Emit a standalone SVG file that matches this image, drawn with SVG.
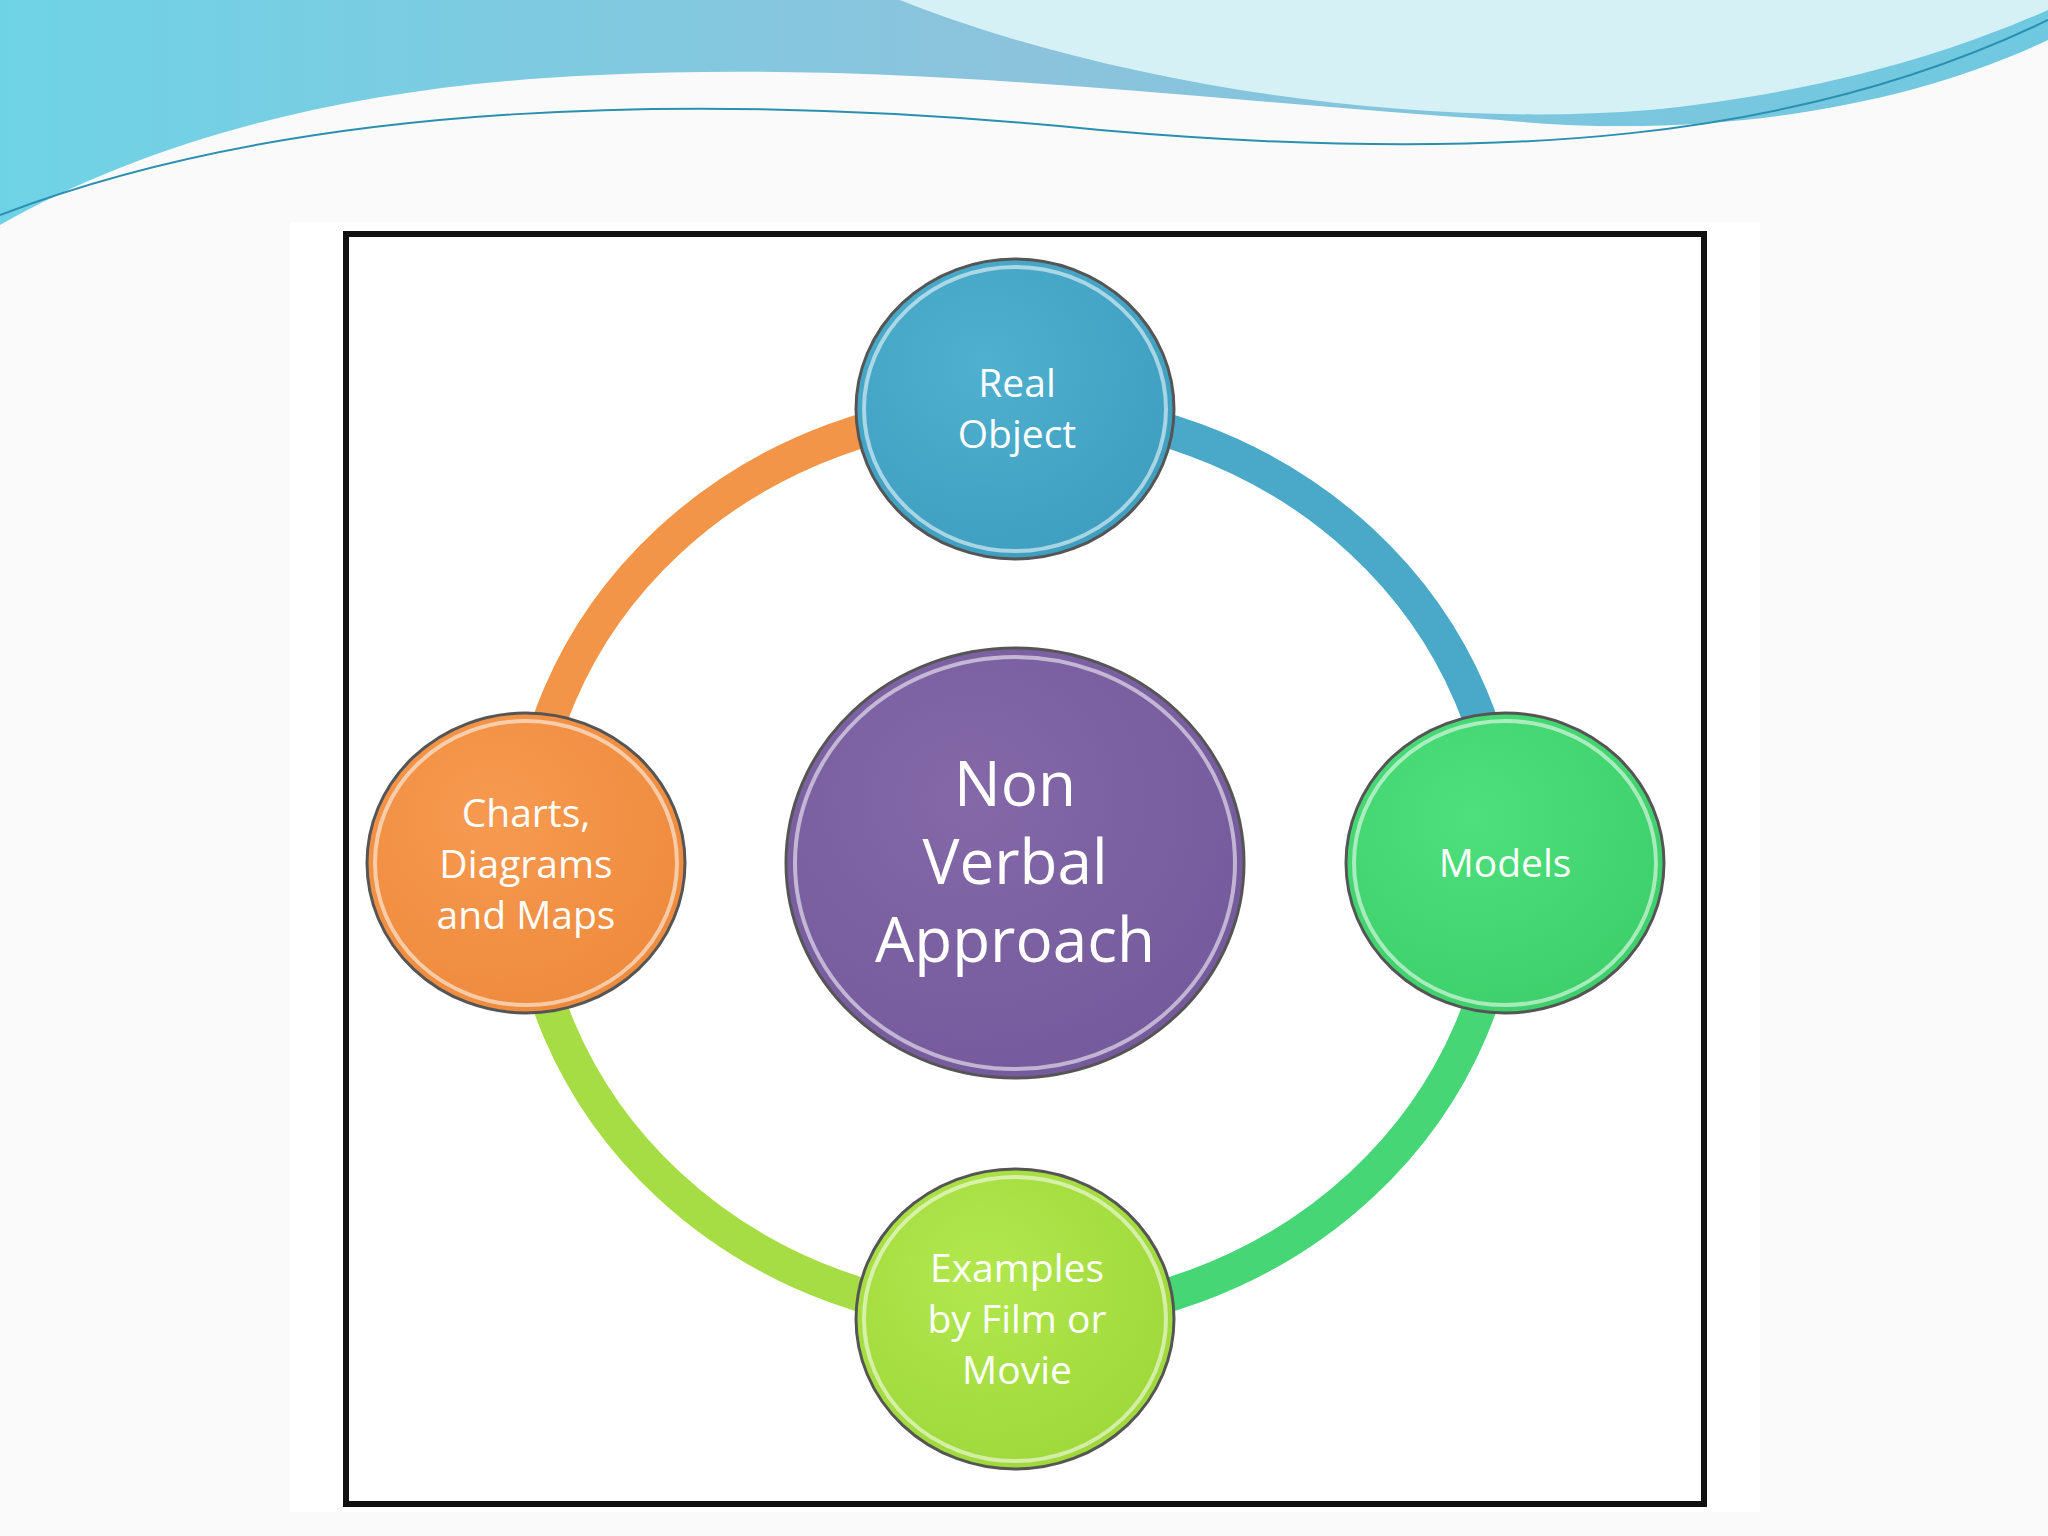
<svg xmlns="http://www.w3.org/2000/svg" width="2048" height="1536" viewBox="0 0 2048 1536">
<defs>
<linearGradient id="sky" x1="0" y1="0" x2="1" y2="0">
<stop offset="0" stop-color="#6fd3e6"/><stop offset="0.5" stop-color="#8cc3dc"/><stop offset="1" stop-color="#6ec9e0"/>
</linearGradient>
<radialGradient id="gb" cx="0.4" cy="0.35" r="0.7"><stop offset="0" stop-color="#4fb0cf"/><stop offset="1" stop-color="#3d9ec0"/></radialGradient>
<radialGradient id="gp" cx="0.4" cy="0.35" r="0.7"><stop offset="0" stop-color="#8468a8"/><stop offset="1" stop-color="#745a9c"/></radialGradient>
<radialGradient id="gg" cx="0.4" cy="0.35" r="0.7"><stop offset="0" stop-color="#4ee07c"/><stop offset="1" stop-color="#3ccf6a"/></radialGradient>
<radialGradient id="go" cx="0.4" cy="0.35" r="0.7"><stop offset="0" stop-color="#f79a50"/><stop offset="1" stop-color="#ee8a3c"/></radialGradient>
<radialGradient id="gy" cx="0.4" cy="0.35" r="0.7"><stop offset="0" stop-color="#b2e84e"/><stop offset="1" stop-color="#9ed83a"/></radialGradient>
</defs>
<style>
.node{stroke:#555;stroke-width:3}
.rim{fill:none;stroke:#fff;stroke-opacity:0.55;stroke-width:4}
.t{font-family:"Open Sans","Liberation Sans",sans-serif;fill:#fff;text-anchor:middle}
.s{font-size:39px}
.arc{fill:none;stroke-width:34}
</style>
<rect width="2048" height="1536" fill="#fafafa"/>
<path d="M0 0 H2048 V40 C1900 110 1700 140 1500 120 C1200 100 900 60 600 75 C350 85 150 140 0 225 Z" fill="url(#sky)"/>
<path d="M900 0 C1100 80 1400 130 1650 110 C1850 90 1980 40 2048 10 V0 Z" fill="#d6f1f6"/>
<path d="M0 215 C300 100 700 90 1100 130 C1500 165 1800 140 2048 20" fill="none" stroke="#2a8fb0" stroke-width="2"/>
<rect x="290" y="222" width="1470" height="1290" fill="#fff"/>
<rect x="346" y="234" width="1358" height="1270" fill="#fff" stroke="#111" stroke-width="6"/>
<g id="connectors">
<path class="arc" stroke="#f39548" d="M525 863 A490 455 0 0 1 1015 408"/>
<path class="arc" stroke="#4aa8c8" d="M1015 408 A490 455 0 0 1 1505 863"/>
<path class="arc" stroke="#46d676" d="M1505 863 A490 455 0 0 1 1015 1318"/>
<path class="arc" stroke="#a6dc44" d="M1015 1318 A490 455 0 0 1 525 863"/>
</g>
<g id="center"><ellipse class="node" cx="1015" cy="863" rx="229" ry="215" fill="url(#gp)"/><ellipse class="rim" cx="1015" cy="863" rx="220" ry="206"/>
<text class="t" font-size="62" x="1015" y="806">Non</text><text class="t" font-size="62" x="1015" y="884">Verbal</text><text class="t" font-size="62" x="1015" y="962">Approach</text></g>
<g id="real"><ellipse class="node" cx="1015" cy="409" rx="159" ry="150" fill="url(#gb)"/><ellipse class="rim" cx="1015" cy="409" rx="151" ry="142"/>
<text class="t s" x="1017" y="397">Real</text><text class="t s" x="1017" y="448">Object</text></g>
<g id="models"><ellipse class="node" cx="1505" cy="863" rx="159" ry="150" fill="url(#gg)"/><ellipse class="rim" cx="1505" cy="863" rx="151" ry="142"/>
<text class="t s" x="1505" y="877">Models</text></g>
<g id="charts"><ellipse class="node" cx="526" cy="863" rx="159" ry="150" fill="url(#go)"/><ellipse class="rim" cx="526" cy="863" rx="151" ry="142"/>
<text class="t s" x="526" y="827">Charts,</text><text class="t s" x="526" y="878">Diagrams</text><text class="t s" x="526" y="929">and  Maps</text></g>
<g id="examples"><ellipse class="node" cx="1015" cy="1319" rx="159" ry="150" fill="url(#gy)"/><ellipse class="rim" cx="1015" cy="1319" rx="151" ry="142"/>
<text class="t s" x="1017" y="1282">Examples</text><text class="t s" x="1017" y="1333">by Film or</text><text class="t s" x="1017" y="1384">Movie</text></g>
</svg>
